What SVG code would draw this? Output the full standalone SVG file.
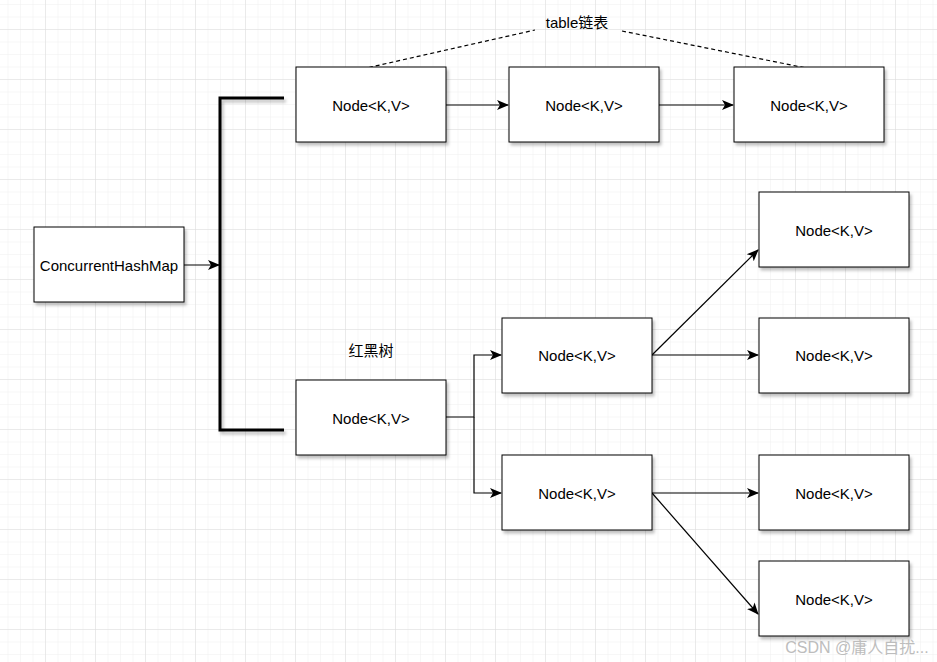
<svg xmlns="http://www.w3.org/2000/svg" width="937" height="662" viewBox="0 0 937 662">
<defs>
<pattern id="minor" width="12.5" height="12.5" patternUnits="userSpaceOnUse" x="-4" y="5"><path d="M12.5 0V12.5M0 12.5H12.5" fill="none" stroke="#f0f0f0" stroke-width="1"/></pattern>
<pattern id="major" width="50" height="50" patternUnits="userSpaceOnUse" x="-4" y="-20"><path d="M50 0V50M0 50H50" fill="none" stroke="#dcdcdc" stroke-width="1"/></pattern>
<marker id="ar" markerWidth="12" markerHeight="12" refX="11" refY="6" orient="auto" markerUnits="userSpaceOnUse"><path d="M0,1 L12,6 L0,11 L3,6Z" fill="#000"/></marker>
<filter id="sh" x="-10%" y="-10%" width="130%" height="130%"><feDropShadow dx="2" dy="3" stdDeviation="1.5" flood-color="#000" flood-opacity="0.25"/></filter>
</defs>
<style>
.n rect{fill:#fff;stroke:#000;stroke-width:1;filter:url(#sh)}
text{font-family:"Liberation Sans","Noto Sans CJK SC",sans-serif;font-size:15px;fill:#000;text-anchor:middle;dominant-baseline:central}
.c{fill:none;stroke:#000;stroke-width:1.2}
</style>
<rect width="937" height="662" fill="#fff"/>
<rect width="937" height="662" fill="url(#minor)"/>
<rect width="937" height="662" fill="url(#major)"/>
<g id="connectors">
<path class="c" d="M184 265H219" marker-end="url(#ar)"/>
<path d="M284 98H220V430H284" fill="none" stroke="#000" stroke-width="3" filter="url(#sh)"/>
<path class="c" d="M446 105H508" marker-end="url(#ar)"/>
<path class="c" d="M659 105H733" marker-end="url(#ar)"/>
<path class="c" d="M362 69L535 30M622 31L826 72" stroke-dasharray="4 3"/>
<path class="c" d="M446 417H474V355H501" marker-end="url(#ar)"/>
<path class="c" d="M474 417V493H501" marker-end="url(#ar)"/>
<path class="c" d="M652 355L758 250" marker-end="url(#ar)"/>
<path class="c" d="M652 355H758" marker-end="url(#ar)"/>
<path class="c" d="M652 493H758" marker-end="url(#ar)"/>
<path class="c" d="M652 493L758 614" marker-end="url(#ar)"/>
</g>
<text x="577" y="22">table链表</text>
<text x="371" y="350">红黑树</text>
<g id="chm" class="n"><rect x="34" y="227" width="150" height="75"/><text x="109" y="265">ConcurrentHashMap</text></g>
<g id="t1" class="n"><rect x="296" y="67" width="150" height="75"/><text x="371" y="105">Node&lt;K,V&gt;</text></g>
<g id="t2" class="n"><rect x="509" y="67" width="150" height="75"/><text x="584" y="105">Node&lt;K,V&gt;</text></g>
<g id="t3" class="n"><rect x="734" y="67" width="150" height="75"/><text x="809" y="105">Node&lt;K,V&gt;</text></g>
<g id="r0" class="n"><rect x="296" y="380" width="150" height="75"/><text x="371" y="418">Node&lt;K,V&gt;</text></g>
<g id="r1" class="n"><rect x="502" y="318" width="150" height="75"/><text x="577" y="355">Node&lt;K,V&gt;</text></g>
<g id="r2" class="n"><rect x="502" y="455" width="150" height="75"/><text x="577" y="493">Node&lt;K,V&gt;</text></g>
<g id="r3" class="n"><rect x="759" y="192" width="150" height="75"/><text x="834" y="230">Node&lt;K,V&gt;</text></g>
<g id="r4" class="n"><rect x="759" y="318" width="150" height="75"/><text x="834" y="355">Node&lt;K,V&gt;</text></g>
<g id="r5" class="n"><rect x="759" y="455" width="150" height="75"/><text x="834" y="493">Node&lt;K,V&gt;</text></g>
<g id="r6" class="n"><rect x="759" y="561" width="150" height="75"/><text x="834" y="599">Node&lt;K,V&gt;</text></g>
<text x="857" y="647" style="fill:#bdbdbd;font-size:16px">CSDN @庸人自扰...</text>
</svg>
